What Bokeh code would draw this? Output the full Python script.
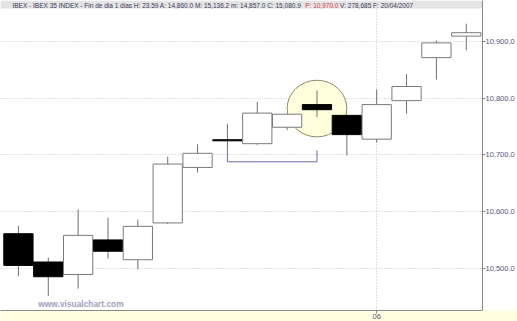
from bokeh.plotting import figure
from bokeh.models import (LinearAxis, FixedTicker, NumeralTickFormatter, Label,
                          Range1d, Grid, ColumnDataSource)
from bokeh.embed import file_html
from bokeh.resources import INLINE

# ---- data ----
idx = list(range(16))
opens = [10561, 10511, 10489, 10550, 10515, 10580, 10678, 10727,
         10720, 10749, 10789, 10770, 10728, 10796, 10872, 10910]
highs = [10575, 10519, 10604, 10589, 10586, 10697, 10719, 10755,
         10794, 10773, 10814, 10771, 10816, 10843, 10902, 10932]
lows = [10486, 10451, 10464, 10517, 10498, 10578, 10669, 10706,
        10718, 10744, 10767, 10699, 10722, 10773, 10833, 10885]
closes = [10505, 10485, 10558, 10530, 10574, 10684, 10703, 10725,
          10774, 10772, 10780, 10736, 10789, 10821, 10898, 10916]

price_ticks = [10500, 10600, 10700, 10800, 10900]
month_ticks = [12]
month_labels = {12: "06"}

highlight_x = [10]
highlight_y = [10782]
bracket_x = [7, 7, 10, 10]
bracket_y = [10706, 10688, 10688, 10708]

title_part1 = ("IBEX - IBEX 35 INDEX - Fin de dia 1 dias H: 23.59 A: 14,860.0 M: 15,136.2 "
               "m: 14,857.0 C: 15,080.9")
title_part2 = "P: 10,970.0"
title_part3 = "V: 278,685 F: 20/04/2007"
watermark = "www.visualchart.com"

# ---- derived ----
tops = [max(o, c) for o, c in zip(opens, closes)]
bottoms = [min(o, c) for o, c in zip(opens, closes)]
up = [c > o for o, c in zip(opens, closes)]
fills = ["white" if u else "black" for u in up]
lines = ["#7a7a7a" if u else "black" for u in up]
src = ColumnDataSource(dict(x=idx, top=tops, bottom=bottoms, high=highs, low=lows,
                            fill=fills, line=lines))

FONT = "Liberation Sans"
GRID = "#c4c4c4"
AXIS = "#8a8a8a"
LABEL = "#55557a"

# pixel -> data helpers for the frame (frame: x 0..484 px, y 0..308 px)
X0, DX = 18.0, 29.98          # centre of first candle, px per candle
Y900, DY = 41.0, 0.5625       # px of 10,900 and px per point
def px_x(px):
    return (px - X0) / DX
def px_y(py):
    return 10900 + (Y900 - py) / DY

p = figure(width=517, height=321, output_backend="svg", toolbar_location=None,
           x_range=Range1d(px_x(0), px_x(484)), y_range=Range1d(px_y(308), px_y(0)),
           x_axis_location=None, y_axis_location=None,
           min_border_left=0, min_border_right=33, min_border_top=0, min_border_bottom=0,
           border_fill_color="#ffffe1", background_fill_color="white",
           outline_line_color=None)
p.grid.visible = False

def has_prop(cls, name):
    try:
        return name in cls.properties()
    except Exception:
        return False

yax_kw = dict(ticker=FixedTicker(ticks=price_ticks),
              formatter=NumeralTickFormatter(format="0,0.0"),
              major_tick_out=3, major_tick_in=0, minor_tick_line_color=None,
              axis_line_color=AXIS, major_tick_line_color=AXIS,
              major_label_text_font_size="7.5px", major_label_text_color=LABEL,
              major_label_text_font=FONT, major_label_standoff=0)
xax_kw = dict(ticker=FixedTicker(ticks=month_ticks), major_label_overrides=month_labels,
              major_tick_out=3, major_tick_in=0, minor_tick_line_color=None,
              axis_line_color=AXIS, major_tick_line_color=AXIS,
              major_label_text_font_size="7.5px", major_label_text_color=LABEL,
              major_label_text_font=FONT, major_label_standoff=0,
              major_label_text_align="left")
if has_prop(LinearAxis, "background_fill_color"):
    yax_kw["background_fill_color"] = "white"
yax = LinearAxis(**yax_kw)
xax = LinearAxis(**xax_kw)
p.add_layout(yax, "right")
p.add_layout(xax, "below")

p.add_layout(Grid(dimension=1, ticker=FixedTicker(ticks=price_ticks),
                  grid_line_color=GRID, grid_line_dash="1 2"))
p.add_layout(Grid(dimension=0, ticker=FixedTicker(ticks=month_ticks),
                  grid_line_color=GRID, grid_line_dash="1 2"))

# window title bar (inside the frame, at its top)
p.quad(left=[px_x(0)], right=[px_x(484)], top=[px_y(0)], bottom=[px_y(8)],
       fill_color="#e4e4e4", line_color=None)
ty = px_y(4.5)
p.add_layout(Label(x=px_x(12), y=ty, text=title_part1, text_font_size="6.5px",
                   text_color="#3a3a5a", text_font=FONT, text_baseline="middle"))
p.add_layout(Label(x=px_x(306), y=ty, text=title_part2, text_font_size="6.5px",
                   text_color="#d04040", text_font=FONT, text_baseline="middle"))
p.add_layout(Label(x=px_x(341), y=ty, text=title_part3, text_font_size="6.5px",
                   text_color="#3a3a5a", text_font=FONT, text_baseline="middle"))

# highlight circle behind candles
p.ellipse(x=highlight_x, y=highlight_y, width=2.0, height=100,
          fill_color="#ffffdc", line_color="#8c8c6a", line_width=1)
# bracket
p.line(bracket_x, bracket_y, line_color="#6b6bb0", line_width=1)

# candles
p.segment(x0="x", y0="low", x1="x", y1="high", source=src, line_color="#707070", line_width=1)
p.vbar(x="x", width=0.98, top="top", bottom="bottom", source=src,
       fill_color="fill", line_color="line", line_width=1)

p.add_layout(Label(x=px_x(38), y=px_y(306.5), text=watermark, text_font_size="8.4px",
                   text_font_style="bold", text_color="#a0a0c0", text_font=FONT,
                   text_baseline="bottom"))

open("out.html", "w").write(file_html(p, INLINE))
